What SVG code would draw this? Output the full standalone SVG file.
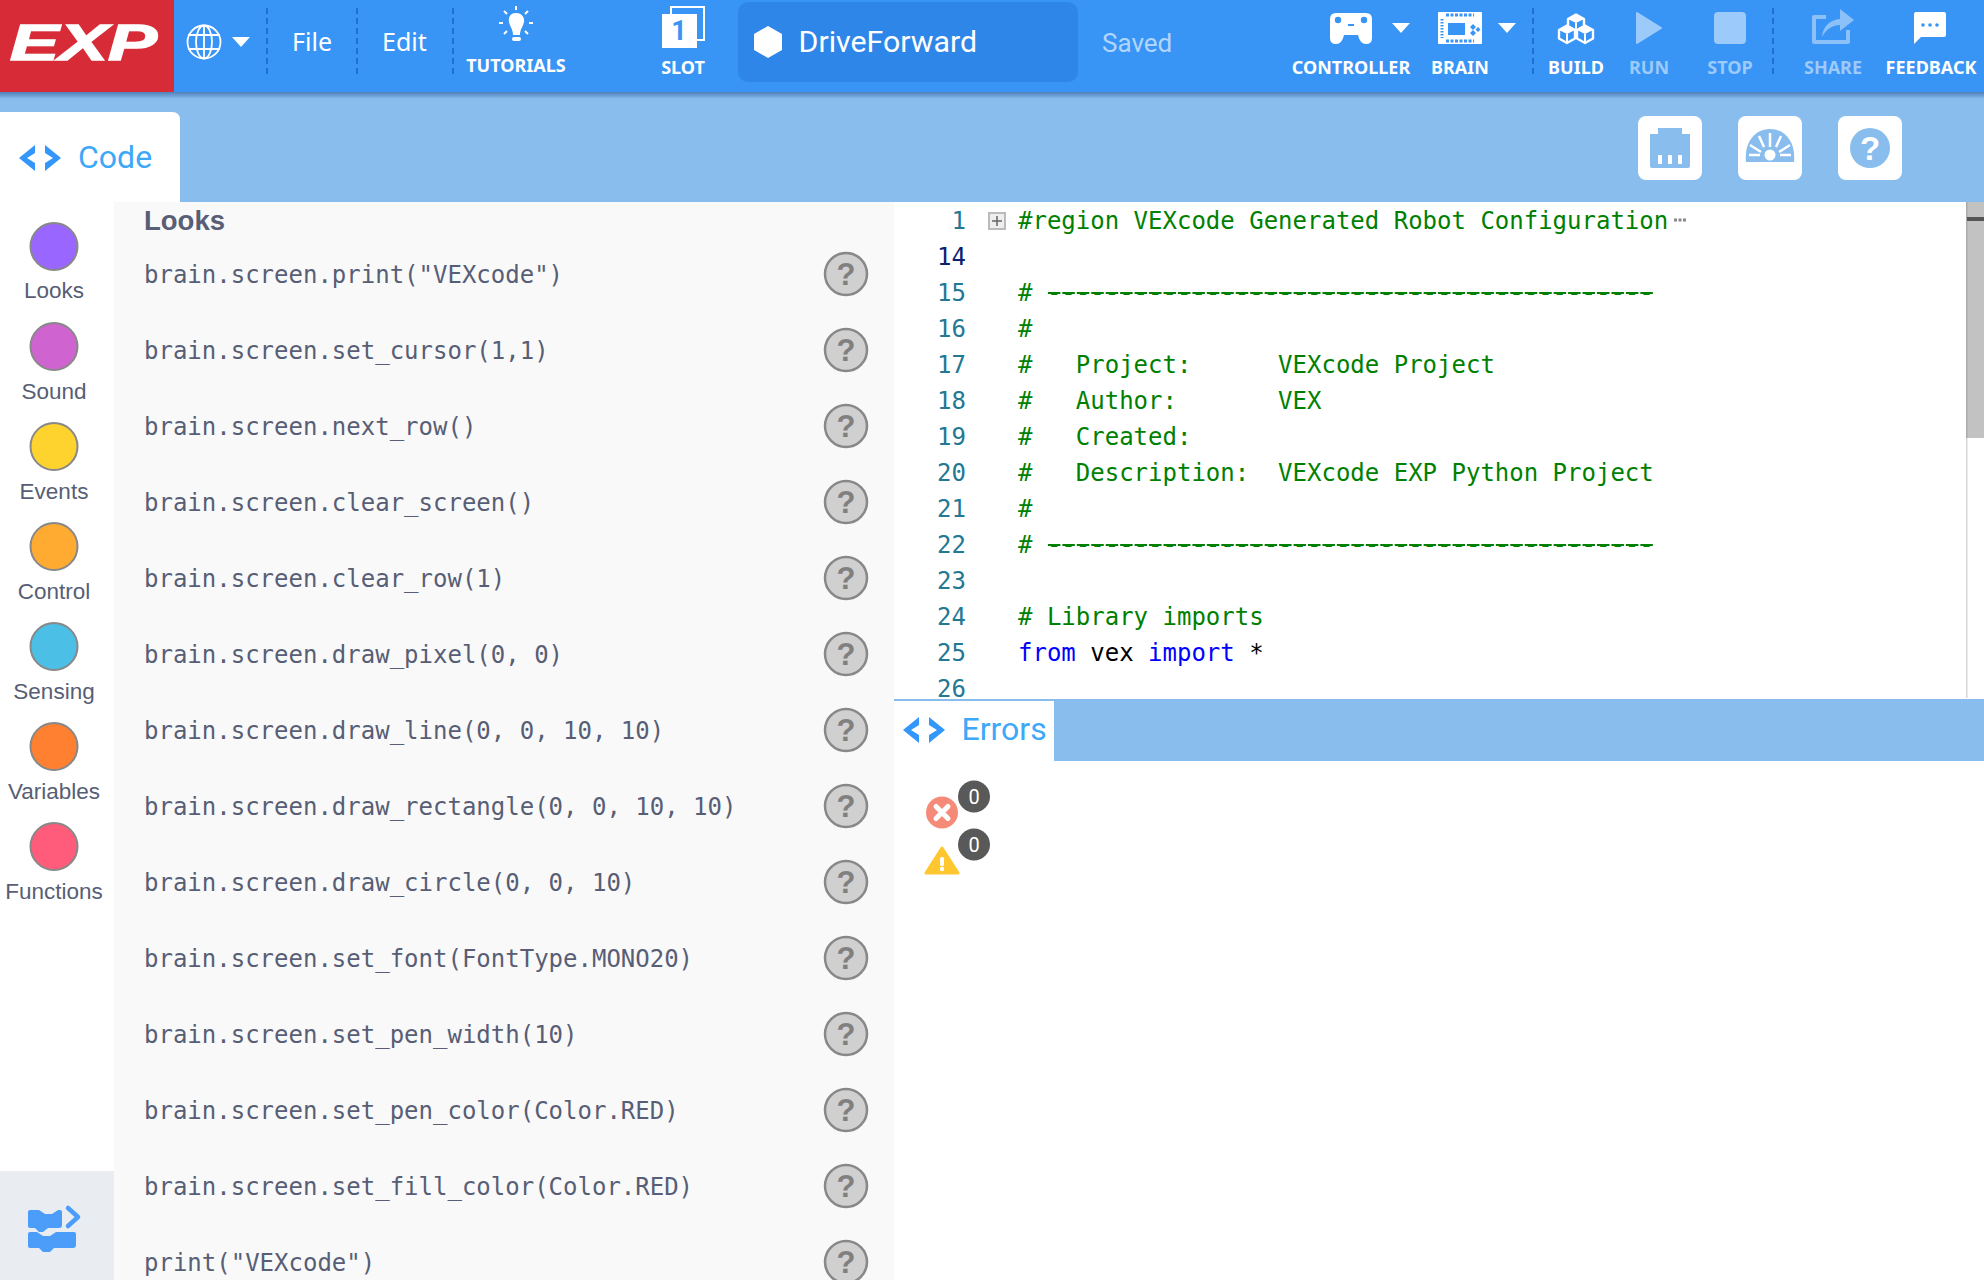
<svg xmlns="http://www.w3.org/2000/svg" xmlns:xlink="http://www.w3.org/1999/xlink" width="1984" height="1280" viewBox="0 0 1984 1280">
<style>
.nav{font-family:"Noto Sans","Open Sans",sans-serif;font-weight:700;font-size:18px;fill:#fff;text-anchor:middle}
.dim{fill:#9ccafb}
.menu{font-family:"Noto Sans","Open Sans",sans-serif;font-size:25px;fill:#fff}
.div{stroke:#1f70d2;stroke-width:2;stroke-dasharray:6 4}
.tab{font-family:Roboto,sans-serif;font-size:32px;fill:#3ea8f8}
.cat{font-family:"Liberation Sans",Arial,sans-serif;font-size:22.5px;fill:#575e75;text-anchor:middle}
.dot{stroke:#888;stroke-width:2}
.code{font-family:"DejaVu Sans Mono",monospace;font-size:24px;fill:#575e75;white-space:pre}
.ed{font-family:"DejaVu Sans Mono",monospace;font-size:24px;white-space:pre}
.c{fill:#008000}.k{fill:#0000ff}.p{fill:#000}
.ln{font-family:"DejaVu Sans Mono",monospace;font-size:24px;fill:#237893;text-anchor:end}
.hb{fill:#d0d0d0;stroke:#888;stroke-width:2.5}
.hq{font-family:"Liberation Sans",Arial,sans-serif;font-weight:700;font-size:31px;fill:#808080;text-anchor:middle}
.sq{fill:#fff}
.badge{fill:#595959}
.bt{font-family:Roboto,sans-serif;font-size:20px;fill:#fff;text-anchor:middle}
.ltb{fill:#88bdee}
.rule{stroke:#008000;stroke-width:2;stroke-dasharray:12.5 1.95;fill:none}
</style>
<defs>
<linearGradient id="sh" x1="0" y1="0" x2="0" y2="1"><stop offset="0" stop-color="#4f7fb8"/><stop offset="1" stop-color="#88bdee"/></linearGradient>
<g id="cube"><path d="M0-8.500 8-4V4.500L0 9-8 4.500V-4Z" fill="#3894f5" stroke="#fff" stroke-width="2.400" stroke-linejoin="round"/><path d="M0 0V9" stroke="#fff" stroke-width="2"/><path d="M0-8.500 8-4 0 0-8-4Z" fill="#fff"/></g>
<path id="chev" d="M16 0 0 13 16 26V18L8 13 16 8ZM26 0 42 13 26 26V18L34 13 26 8Z" fill="#3296fa"/>
</defs>
<rect width="1984" height="1280" fill="#fff"/>
<rect y="92" width="1984" height="110" class="ltb"/>
<rect y="92" width="1984" height="7" fill="url(#sh)"/>

<g id="topbar">
<rect width="1984" height="92" fill="#3894f5"/>
<rect width="174" height="92" fill="#d72c37"/>
<text x="10" y="60" font-family="Liberation Sans,Arial,sans-serif" font-weight="700" font-style="italic" font-size="50" fill="#fff" stroke="#fff" stroke-width="1.500" textLength="147" lengthAdjust="spacingAndGlyphs">EXP</text>
<g id="globe" fill="none" stroke="#fff" stroke-width="1.800"><ellipse cx="204" cy="42" rx="16.500" ry="16.500"/><ellipse cx="204" cy="42" rx="8" ry="16.500"/><path d="M204 25.500V58.500M188 35H220M188 49H220"/></g>
<path d="M232 37H250L241 47Z" fill="#fff"/>
<line class="div" x1="267" y1="8" x2="267" y2="78"/><line class="div" x1="357" y1="8" x2="357" y2="78"/><line class="div" x1="453" y1="8" x2="453" y2="78"/>
<text class="menu" x="292" y="51">File</text><text class="menu" x="382" y="51">Edit</text>
<g id="tutorials"><path d="M516 13C510 13 508 18 509 22 510 27 513 29 513 35H520C520 29 523 27 524 22 525 18 522 13 516 13Z" fill="#fff"/><rect x="512" y="37" width="9" height="4" rx="2" fill="#fff"/>
<path d="M516 6V10M504 11 507 14M528 11 525 14M499 23H503M529 23H533M504 34 507 31M528 34 525 31" stroke="#fff" stroke-width="2" fill="none"/>
<text class="nav" x="516" y="72">TUTORIALS</text></g>
<g id="slot"><rect x="671" y="7" width="33" height="33" fill="none" stroke="#fff" stroke-width="2"/><rect x="662" y="14" width="35" height="34" fill="#fff"/>
<text x="679" y="40" font-family="Roboto,sans-serif" font-weight="700" font-size="27" fill="#3894f5" text-anchor="middle">1</text>
<text class="nav" x="683" y="74">SLOT</text></g>
<g id="project"><rect x="738" y="2" width="340" height="80" rx="10" fill="#2e86e8"/><path d="M768 26 782 34V50L768 58 754 50V34Z" fill="#fff"/><text x="798.500" y="52" font-family="Roboto,sans-serif" font-size="30.300" fill="#fff">DriveForward</text></g>
<text x="1102" y="52" font-family="Roboto,sans-serif" font-size="26" fill="#b2d5fb">Saved</text>
<g id="controller"><path d="M1336 13H1366Q1372 13 1372 19V38Q1372 44 1366 44 1360 44 1358 35H1344Q1342 44 1336 44 1330 44 1330 38V19Q1330 13 1336 13Z" fill="#fff"/><circle cx="1338" cy="20" r="3.200" fill="#3894f5"/><circle cx="1364" cy="20" r="3.200" fill="#3894f5"/><rect x="1348" y="24" width="6" height="2" fill="#3894f5"/><path d="M1392 23H1410L1401 33Z" fill="#fff"/><text class="nav" x="1351" y="74">CONTROLLER</text></g>
<g id="brain"><rect x="1438" y="12" width="44" height="32" rx="1" fill="#fff"/><rect x="1448" y="23" width="17" height="12" fill="#3894f5"/><path d="M1446 15H1474M1446 41H1474" stroke="#3894f5" stroke-width="3" stroke-dasharray="3 1.500"/><path d="M1442 19V38" stroke="#3894f5" stroke-width="3" stroke-dasharray="1.500 1.500"/><path d="M1473 24 1476 27 1473 30 1470 27ZM1473 30 1476 33 1473 36 1470 33Z M1478 27 1480.500 29.500 1478 32 1475.500 29.500Z" fill="#3894f5"/><path d="M1498 23H1516L1507 33Z" fill="#fff"/><text class="nav" x="1460" y="74">BRAIN</text></g>
<line class="div" x1="1533" y1="8" x2="1533" y2="78"/>
<g id="build"><use href="#cube" x="1576" y="23"/><use href="#cube" x="1567" y="34"/><use href="#cube" x="1585" y="34"/><text class="nav" x="1576" y="74">BUILD</text></g>
<g id="run"><path d="M1637 13 1661 28 1637 43Z" class="dim" stroke="#9ccafb" stroke-width="2" stroke-linejoin="round"/><text class="nav dim" x="1649" y="74">RUN</text></g>
<g id="stop"><rect x="1714" y="12" width="32" height="32" rx="4" class="dim"/><text class="nav dim" x="1730" y="74">STOP</text></g>
<line class="div" x1="1773" y1="8" x2="1773" y2="78"/>
<g id="share"><path d="M1826 17H1814V42H1848V30" fill="none" stroke="#8cc0f8" stroke-width="4" stroke-linejoin="round"/><path d="M1822 37C1823 26 1830 20 1840 19V9L1854 20 1840 31V25C1833 25 1826 29 1822 37Z" fill="#8cc0f8"/><text class="nav dim" x="1833" y="74">SHARE</text></g>
<g id="feedback"><path d="M1916 12H1944Q1946 12 1946 14V35Q1946 37 1944 37H1921L1914 44V14Q1914 12 1916 12Z" fill="#fff"/><circle cx="1923" cy="25" r="1.800" fill="#3894f5"/><circle cx="1930" cy="25" r="1.800" fill="#3894f5"/><circle cx="1937" cy="25" r="1.800" fill="#3894f5"/><text class="nav" x="1931" y="74">FEEDBACK</text></g>
</g>

<g id="tools">
<g id="port"><rect class="sq" x="1638" y="116" width="64" height="64" rx="8"/><path d="M1658 128H1682V134H1690V166Q1690 168 1688 168H1652Q1650 168 1650 166V134H1658Z" class="ltb"/><path d="M1658 155H1662V164H1658ZM1668 155H1672V164H1668ZM1678 155H1682V164H1678Z" fill="#fff"/></g>
<g id="gauge"><rect class="sq" x="1738" y="116" width="64" height="64" rx="8"/><path d="M1746 162C1744 142 1755 129 1770 129 1785 129 1796 142 1794 162Z" class="ltb"/><circle cx="1770" cy="155" r="5.500" fill="#fff"/><path d="M1770 133V147M1759 136 1764 147M1781 136 1776 147M1750 145 1761 152M1790 145 1779 152M1749 155H1760M1780 155H1791" stroke="#fff" stroke-width="2.500" fill="none"/></g>
<g id="help"><rect class="sq" x="1838" y="116" width="64" height="64" rx="8"/><circle cx="1870" cy="148" r="20" class="ltb"/><text x="1870" y="160" font-family="Liberation Sans,Arial,sans-serif" font-weight="700" font-size="33" fill="#fff" text-anchor="middle">?</text></g>
</g>

<g id="code-tab"><path d="M0 112H172Q180 112 180 120V203H0Z" fill="#fff"/><use href="#chev" x="19" y="145"/><text class="tab" x="78" y="168">Code</text></g>

<g id="categories">
<g id="cat-looks"><circle class="dot" cx="54" cy="246.500" r="23.500" fill="#9966ff"/><text class="cat" x="54" y="298">Looks</text></g>
<g id="cat-sound"><circle class="dot" cx="54" cy="346.500" r="23.500" fill="#cf63cf"/><text class="cat" x="54" y="398.500">Sound</text></g>
<g id="cat-events"><circle class="dot" cx="54" cy="446.500" r="23.500" fill="#ffd32e"/><text class="cat" x="54" y="498.500">Events</text></g>
<g id="cat-control"><circle class="dot" cx="54" cy="546.500" r="23.500" fill="#ffab32"/><text class="cat" x="54" y="598.500">Control</text></g>
<g id="cat-sensing"><circle class="dot" cx="54" cy="646.500" r="23.500" fill="#4cbfe6"/><text class="cat" x="54" y="698.500">Sensing</text></g>
<g id="cat-variables"><circle class="dot" cx="54" cy="746.500" r="23.500" fill="#ff8030"/><text class="cat" x="54" y="798.500">Variables</text></g>
<g id="cat-functions"><circle class="dot" cx="54" cy="846.500" r="23.500" fill="#ff5c7c"/><text class="cat" x="54" y="898.500">Functions</text></g>
</g>
<g id="blocks-toggle"><rect y="1171" width="114" height="109" fill="#e9edf2"/>
<path d="M30 1210H39L45 1214H52L58 1210H60Q62 1210 62 1212V1225Q62 1228 59 1228H48L43 1232H39L35 1228H30Q28 1228 28 1226V1212Q28 1210 30 1210Z" fill="#4c9dfa"/>
<path d="M30 1232H37L43 1236H50L56 1232H74Q76 1232 76 1234V1245Q76 1248 73 1248H54L50 1252H43L39 1248H30Q28 1248 28 1246V1234Q28 1232 30 1232Z" fill="#4c9dfa"/>
<path d="M68 1208 78 1217 68 1226" fill="none" stroke="#4c9dfa" stroke-width="4.500" stroke-linecap="round" stroke-linejoin="round"/></g>

<g id="palette"><rect x="114" y="202" width="780" height="1078" fill="#f9f9f9"/>
<text x="144" y="230" font-family="Liberation Sans,Arial,sans-serif" font-weight="700" font-size="27.500" fill="#575e75">Looks</text>
<g id="r1"><text class="code" x="144" y="283">brain.screen.print("VEXcode")</text><circle class="hb" cx="846" cy="274" r="21"/><text class="hq" x="846" y="285">?</text></g>
<g id="r2"><text class="code" x="144" y="359">brain.screen.set_cursor(1,1)</text><circle class="hb" cx="846" cy="350" r="21"/><text class="hq" x="846" y="361">?</text></g>
<g id="r3"><text class="code" x="144" y="435">brain.screen.next_row()</text><circle class="hb" cx="846" cy="426" r="21"/><text class="hq" x="846" y="437">?</text></g>
<g id="r4"><text class="code" x="144" y="511">brain.screen.clear_screen()</text><circle class="hb" cx="846" cy="502" r="21"/><text class="hq" x="846" y="513">?</text></g>
<g id="r5"><text class="code" x="144" y="587">brain.screen.clear_row(1)</text><circle class="hb" cx="846" cy="578" r="21"/><text class="hq" x="846" y="589">?</text></g>
<g id="r6"><text class="code" x="144" y="663">brain.screen.draw_pixel(0, 0)</text><circle class="hb" cx="846" cy="654" r="21"/><text class="hq" x="846" y="665">?</text></g>
<g id="r7"><text class="code" x="144" y="739">brain.screen.draw_line(0, 0, 10, 10)</text><circle class="hb" cx="846" cy="730" r="21"/><text class="hq" x="846" y="741">?</text></g>
<g id="r8"><text class="code" x="144" y="815">brain.screen.draw_rectangle(0, 0, 10, 10)</text><circle class="hb" cx="846" cy="806" r="21"/><text class="hq" x="846" y="817">?</text></g>
<g id="r9"><text class="code" x="144" y="891">brain.screen.draw_circle(0, 0, 10)</text><circle class="hb" cx="846" cy="882" r="21"/><text class="hq" x="846" y="893">?</text></g>
<g id="r10"><text class="code" x="144" y="967">brain.screen.set_font(FontType.MONO20)</text><circle class="hb" cx="846" cy="958" r="21"/><text class="hq" x="846" y="969">?</text></g>
<g id="r11"><text class="code" x="144" y="1043">brain.screen.set_pen_width(10)</text><circle class="hb" cx="846" cy="1034" r="21"/><text class="hq" x="846" y="1045">?</text></g>
<g id="r12"><text class="code" x="144" y="1119">brain.screen.set_pen_color(Color.RED)</text><circle class="hb" cx="846" cy="1110" r="21"/><text class="hq" x="846" y="1121">?</text></g>
<g id="r13"><text class="code" x="144" y="1195">brain.screen.set_fill_color(Color.RED)</text><circle class="hb" cx="846" cy="1186" r="21"/><text class="hq" x="846" y="1197">?</text></g>
<g id="r14"><text class="code" x="144" y="1271">print("VEXcode")</text><circle class="hb" cx="846" cy="1262" r="21"/><text class="hq" x="846" y="1273">?</text></g>
</g>

<g id="editor">
<text class="ln" x="966" y="228.500">1</text>
<text class="ln" x="966" y="265" style="fill:#0b216f">14</text>
<text class="ln" x="966" y="301">15</text><text class="ln" x="966" y="337">16</text><text class="ln" x="966" y="373">17</text><text class="ln" x="966" y="409">18</text><text class="ln" x="966" y="445">19</text><text class="ln" x="966" y="481">20</text><text class="ln" x="966" y="517">21</text><text class="ln" x="966" y="553">22</text><text class="ln" x="966" y="589">23</text><text class="ln" x="966" y="625">24</text><text class="ln" x="966" y="661">25</text><text class="ln" x="966" y="697">26</text>
<rect x="989" y="213" width="16" height="16" fill="#eee" stroke="#bbb" stroke-width="2"/><path d="M992 221H1002M997 216V226" stroke="#666" stroke-width="1.500"/>
<text class="ed c" x="1018" y="228.500">#region VEXcode Generated Robot Configuration</text>
<path d="M1674 220H1687" stroke="#888" stroke-width="3" stroke-dasharray="3 1.500"/>
<path class="rule" d="M1047.900 293H1654"/><path class="rule" d="M1047.900 545H1654"/>
<text class="ed c" x="1018" y="301"># ------------------------------------------</text>
<text class="ed c" x="1018" y="337">#</text>
<text class="ed c" x="1018" y="373">#   Project:      VEXcode Project</text>
<text class="ed c" x="1018" y="409">#   Author:       VEX</text>
<text class="ed c" x="1018" y="445">#   Created:</text>
<text class="ed c" x="1018" y="481">#   Description:  VEXcode EXP Python Project</text>
<text class="ed c" x="1018" y="517">#</text>
<text class="ed c" x="1018" y="553"># ------------------------------------------</text>
<text class="ed c" x="1018" y="625"># Library imports</text>
<text class="ed p" x="1018" y="661"><tspan class="k">from</tspan> vex <tspan class="k">import</tspan> *</text>
<g id="scrollbar"><rect x="1966" y="202" width="1.500" height="496" fill="#d8d8d8"/><rect x="1966" y="202" width="18" height="236" fill="#c2c2c2"/><rect x="1966" y="202" width="1.500" height="236" fill="#aaa"/><rect x="1967" y="217" width="17" height="4" fill="#555"/></g>
</g>

<g id="errors-panel"><rect x="894" y="699" width="1090" height="2" class="ltb"/><rect x="1054" y="699" width="930" height="62" class="ltb"/>
<use href="#chev" x="903" y="717"/><text class="tab" x="961.500" y="740">Errors</text>
<g id="error-count"><circle cx="942" cy="812.500" r="16" fill="#f68a78"/><path d="M936 806.500 948 818.500M948 806.500 936 818.500" stroke="#fff" stroke-width="5" stroke-linecap="round"/><circle class="badge" cx="974" cy="796.500" r="16"/><text class="bt" x="974" y="803.500">0</text></g>
<g id="warning-count"><path d="M942 848 958 873H926Z" fill="#fec72f" stroke="#fec72f" stroke-width="3" stroke-linejoin="round"/><rect x="940" y="857" width="4" height="9" rx="1.500" fill="#fff"/><circle cx="942" cy="869" r="2.200" fill="#fff"/><circle class="badge" cx="974" cy="844.500" r="16"/><text class="bt" x="974" y="851.500">0</text></g>
</g>
</svg>
